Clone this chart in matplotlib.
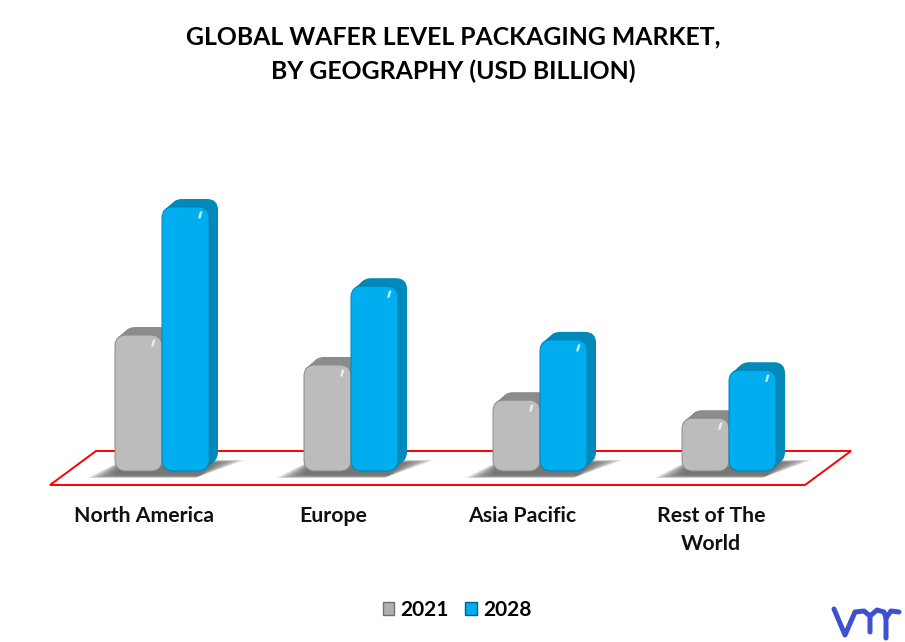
#!/usr/bin/env python3

import matplotlib
matplotlib.use('Agg')
import matplotlib.pyplot as plt
from matplotlib.patches import FancyBboxPatch, Patch, Polygon

categories = ['North America', 'Europe', 'Asia Pacific', 'Rest of The\nWorld']
years = ['2021', '2028']
values_2021 = [3.09, 2.41, 1.61, 1.20]
values_2028 = [6.00, 4.20, 2.98, 2.29]

title = 'GLOBAL WAFER LEVEL PACKAGING MARKET,\nBY GEOGRAPHY (USD BILLION)'

fig_w, fig_h = 905, 642
px_per_cat = 189
px_per_unit = 44
base_px = 471
label0_px = 144
bar_px = 47
depth_x, depth_y = 9, 8

plt.rcParams['font.family'] = ['Lato', 'DejaVu Sans']
plt.rcParams['font.weight'] = 'bold'


def sx(px):
    return px / px_per_cat


def sy(px):
    return px / px_per_unit


def xpos(px):
    return (px - label0_px) / px_per_cat


def ypos(px):
    return (base_px - px) / px_per_unit


def draw_bar(ax, left, value, front, dark, edge, z):
    aspect = px_per_cat / px_per_unit
    style = f'round,pad=0,rounding_size={sx(11)}'
    # extrude backwards with stacked copies
    for k in range(depth_x, 0, -1):
        ax.add_patch(FancyBboxPatch(
            (left + sx(k), sy(k * depth_y / depth_x)), sx(bar_px), value,
            boxstyle=style, mutation_aspect=aspect,
            fc=dark, ec='none', zorder=z))
    ax.add_patch(FancyBboxPatch(
        (left, 0), sx(bar_px), value,
        boxstyle=style, mutation_aspect=aspect,
        fc=front, ec=edge, lw=0.7, zorder=z + 0.1))
    # small slanted glint near the top right corner
    gx = left + sx(bar_px - 9)
    gy = value - sy(8)
    ax.add_patch(Polygon(
        [(gx - sx(2), gy - sy(3.5)), (gx + sx(0.5), gy - sy(3.5)),
         (gx + sx(2.5), gy + sy(3.5)), (gx, gy + sy(3.5))],
        fc='white', ec='none', alpha=0.75, zorder=z + 0.2))


def draw_shadow(ax, left_px, right_px):
    layers = 16
    for i in range(layers):
        t = i / layers
        pts = [
            (left_px - 28 + 30 * t, 478 - t * 3),
            (right_px - 14 + 6 * t, 478 - t * 3),
            (right_px + 36 - 34 * t, 460 + t * 3),
            (left_px + 8, 460 + t * 3),
        ]
        ax.add_patch(Polygon(
            [(xpos(x), ypos(y)) for x, y in pts],
            fc='#5c5c5c', ec='none', alpha=0.1, zorder=2))


def main():
    fig = plt.figure(figsize=(fig_w / 100, fig_h / 100), dpi=100)
    ax = fig.add_axes([0, 0, 1, 1])
    ax.set_xlim(xpos(0), xpos(fig_w))
    ax.set_ylim(ypos(fig_h), ypos(0))
    ax.axis('off')

    floor = [(50, 485), (805, 485), (851, 451), (96, 451)]
    ax.add_patch(Polygon(
        [(xpos(x), ypos(y)) for x, y in floor],
        fc='white', ec='#ff0000', lw=1.4, zorder=1))

    for i, name in enumerate(categories):
        split = i + sx(18)
        left_px = label0_px + i * px_per_cat + 18 - bar_px
        draw_shadow(ax, left_px, left_px + 2 * bar_px)
        draw_bar(ax, split - sx(bar_px), values_2021[i],
                 '#bcbcbc', '#8c8c8c', '#8a8a8a', 3 + i)
        draw_bar(ax, split, values_2028[i],
                 '#00aeef', '#0089b9', '#0083b3', 3.5 + i)
        ax.text(i, ypos(505.5), name, ha='center', va='top', fontsize=15.3,
                linespacing=1.5, color='#111111', zorder=10)

    ax.text(xpos(453), ypos(54), title, ha='center', va='center',
            fontsize=17.8, linespacing=1.56, color='black')

    handles = [
        Patch(fc='#b0b0b0', ec='#707070', label=years[0]),
        Patch(fc='#00aeef', ec='#005f85', label=years[1]),
    ]
    ax.legend(
        handles=handles,
        ncol=2,
        loc='center',
        bbox_to_anchor=(457 / fig_w, 1 - 610 / fig_h),
        frameon=False,
        fontsize=15,
        handlelength=0.55,
        handleheight=0.55,
        handletextpad=0.3,
        columnspacing=0.8,
    )

    # logo
    logo = '#3f51cf'
    strokes = [
        ((834, 845, 855, 864, 870, 870), (609, 635, 612, 611, 616, 632)),
        ((870, 877, 884, 886, 886), (616, 610, 612, 618, 638)),
        ((886, 891, 899), (618, 611, 612)),
    ]
    for xs, ys in strokes:
        ax.plot([xpos(x) for x in xs], [ypos(y) for y in ys],
                color=logo, lw=3.6, solid_joinstyle='round',
                solid_capstyle='round', zorder=10)

    fig.savefig('out.png', dpi=100)


if __name__ == "__main__":
    main()
